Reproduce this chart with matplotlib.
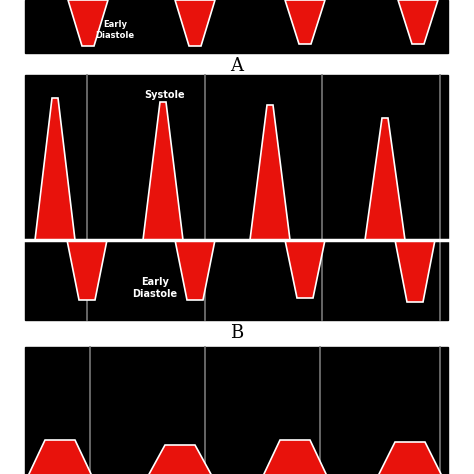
import matplotlib
matplotlib.use("Agg")
import matplotlib.pyplot as plt
import numpy as np

panel_labels = ["A", "B", "C"]
# panel B systolic peaks (x centre, top y) and diastolic troughs (x centre, bottom y)
b_sys_x = [55, 163, 270, 385]
b_sys_top = [98, 102, 105, 118]
b_dia_x = [87, 195, 305, 415]
b_dia_bot = [300, 300, 298, 302]
b_grid_x = [87, 205, 322, 440]
# panel A diastolic troughs visible at the top
a_dia_x = [88, 195, 305, 418]
a_dia_bot = [46, 46, 44, 44]
# panel C humps
c_x = [60, 180, 295, 410]
c_top = [440, 445, 440, 442]
c_grid_x = [90, 205, 320, 440]

fig = plt.figure(figsize=(4.74, 4.74), dpi=100)
ax = fig.add_axes([0, 0, 1, 1])
ax.set_xlim(0, 474); ax.set_ylim(474, 0); ax.axis("off")

def rect(y0, y1):
    ax.add_patch(plt.Rectangle((25, y0), 423, y1 - y0, color="black", zorder=0))

def spike(xc, base, tip, hw_base, hw_tip):
    xs = [xc - hw_base, xc - hw_tip, xc + hw_tip, xc + hw_base]
    ys = [base, tip, tip, base]
    ax.fill(xs, ys, color="#e8120c", ec="white", lw=1.2, zorder=2)

# Panel A
rect(0, 53)
for x, b in zip(a_dia_x, a_dia_bot):
    spike(x, 0, b, 20, 6)
ax.text(115, 30, "Early\nDiastole", color="white", fontsize=6, ha="center", va="center", weight="bold")
ax.text(237, 66, panel_labels[0], fontsize=13, ha="center", va="center", family="DejaVu Serif")

# Panel B
rect(75, 320)
for gx in b_grid_x:
    ax.plot([gx, gx], [75, 320], color="#777777", lw=1.2, zorder=1)
ax.plot([25, 448], [240, 240], color="white", lw=2.5, zorder=3)
for x, t in zip(b_sys_x, b_sys_top):
    spike(x, 240, t, 20, 3)
for x, b in zip(b_dia_x, b_dia_bot):
    spike(x, 240, b, 20, 8)
ax.text(165, 95, "Systole", color="white", fontsize=7, ha="center", va="center", weight="bold")
ax.text(155, 288, "Early\nDiastole", color="white", fontsize=7, ha="center", va="center", weight="bold")
ax.text(237, 333, panel_labels[1], fontsize=13, ha="center", va="center", family="DejaVu Serif")

# Panel C
rect(347, 474)
for gx in c_grid_x:
    ax.plot([gx, gx], [347, 474], color="#777777", lw=1.2, zorder=1)
for x, t in zip(c_x, c_top):
    spike(x, 476, t, 32, 15)

fig.savefig("out.png", dpi=100)
